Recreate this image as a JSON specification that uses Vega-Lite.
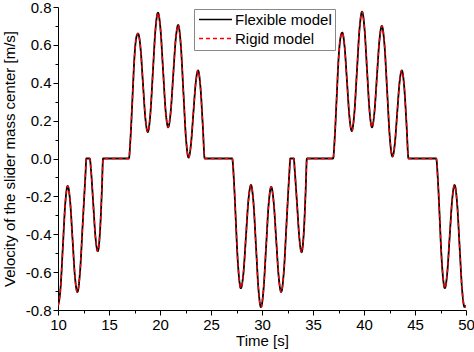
{
  "$schema": "https://vega.github.io/schema/vega-lite/v6.json",
  "width": 408,
  "height": 303,
  "autosize": "none",
  "padding": {"left": 58, "top": 7, "right": 8, "bottom": 42},
  "background": "white",
  "config": {
    "view": {"stroke": null},
    "font": "Liberation Sans",
    "axis": {
      "grid": false,
      "domainColor": "black",
      "tickColor": "black",
      "labelColor": "black",
      "titleColor": "black",
      "labelFontSize": 15,
      "titleFontSize": 15,
      "titleFontWeight": "normal",
      "labelFont": "Liberation Sans",
      "titleFont": "Liberation Sans",
      "labelOverlap": false,
      "labelFlush": false,
      "domainWidth": 1,
      "tickWidth": 1
    },
    "legend": {
      "labelFont": "Liberation Sans"
    }
  },
  "data": {
    "values": [
      {"t": 10.0, "v": -0.78}, {"t": 10.24, "v": -0.69}, {"t": 10.475, "v": -0.4675}, {"t": 10.71, "v": -0.239},
      {"t": 10.95, "v": -0.145}, {"t": 11.19, "v": -0.227}, {"t": 11.425, "v": -0.425}, {"t": 11.66, "v": -0.623},
      {"t": 11.9, "v": -0.705}, {"t": 12.16, "v": -0.599}, {"t": 12.425, "v": -0.3425}, {"t": 12.69, "v": -0.086},
      {"t": 12.78, "v": 0}, {"t": 13.12, "v": 0}, {"t": 13.225, "v": -0.054}, {"t": 13.45, "v": -0.235},
      {"t": 13.675, "v": -0.416}, {"t": 13.9, "v": -0.49}, {"t": 14.14, "v": -0.365}, {"t": 14.3, "v": -0.168},
      {"t": 14.42, "v": 0}, {"t": 16.95, "v": 0}, {"t": 17.1, "v": 0.1}, {"t": 17.3, "v": 0.32},
      {"t": 17.5, "v": 0.54}, {"t": 17.68, "v": 0.64}, {"t": 17.85, "v": 0.66}, {"t": 18.09, "v": 0.584},
      {"t": 18.325, "v": 0.40}, {"t": 18.56, "v": 0.216}, {"t": 18.8, "v": 0.14}, {"t": 19.05, "v": 0.232},
      {"t": 19.3, "v": 0.455}, {"t": 19.55, "v": 0.678}, {"t": 19.8, "v": 0.77}, {"t": 20.05, "v": 0.682},
      {"t": 20.3, "v": 0.4675}, {"t": 20.55, "v": 0.253}, {"t": 20.8, "v": 0.165}, {"t": 21.045, "v": 0.244},
      {"t": 21.29, "v": 0.435}, {"t": 21.535, "v": 0.626}, {"t": 21.78, "v": 0.705}, {"t": 22.035, "v": 0.603},
      {"t": 22.29, "v": 0.355}, {"t": 22.545, "v": 0.107}, {"t": 22.8, "v": 0.005}, {"t": 23.03, "v": 0.072},
      {"t": 23.265, "v": 0.235}, {"t": 23.5, "v": 0.398}, {"t": 23.73, "v": 0.465}, {"t": 23.97, "v": 0.374},
      {"t": 24.2, "v": 0.169}, {"t": 24.38, "v": 0}, {"t": 27.08, "v": 0}, {"t": 27.23, "v": -0.1},
      {"t": 27.41, "v": -0.3}, {"t": 27.58, "v": -0.5}, {"t": 27.75, "v": -0.63}, {"t": 27.92, "v": -0.685},
      {"t": 28.18, "v": -0.605}, {"t": 28.425, "v": -0.4125}, {"t": 28.67, "v": -0.22}, {"t": 28.92, "v": -0.14},
      {"t": 29.165, "v": -0.234}, {"t": 29.41, "v": -0.4625}, {"t": 29.655, "v": -0.691}, {"t": 29.9, "v": -0.785},
      {"t": 30.15, "v": -0.692}, {"t": 30.4, "v": -0.4675}, {"t": 30.65, "v": -0.243}, {"t": 30.9, "v": -0.15},
      {"t": 31.145, "v": -0.231}, {"t": 31.39, "v": -0.4275}, {"t": 31.635, "v": -0.624}, {"t": 31.88, "v": -0.705},
      {"t": 32.14, "v": -0.599}, {"t": 32.405, "v": -0.3425}, {"t": 32.67, "v": -0.086}, {"t": 32.78, "v": 0},
      {"t": 33.12, "v": 0}, {"t": 33.2, "v": -0.054}, {"t": 33.43, "v": -0.235}, {"t": 33.655, "v": -0.416},
      {"t": 33.88, "v": -0.495}, {"t": 34.12, "v": -0.37}, {"t": 34.28, "v": -0.17}, {"t": 34.4, "v": 0},
      {"t": 36.97, "v": 0}, {"t": 37.12, "v": 0.1}, {"t": 37.32, "v": 0.32}, {"t": 37.52, "v": 0.54},
      {"t": 37.7, "v": 0.64}, {"t": 37.87, "v": 0.665}, {"t": 38.1, "v": 0.589}, {"t": 38.335, "v": 0.405},
      {"t": 38.57, "v": 0.221}, {"t": 38.8, "v": 0.145}, {"t": 39.05, "v": 0.237}, {"t": 39.305, "v": 0.46},
      {"t": 39.56, "v": 0.683}, {"t": 39.81, "v": 0.775}, {"t": 40.05, "v": 0.686}, {"t": 40.295, "v": 0.47},
      {"t": 40.54, "v": 0.254}, {"t": 40.78, "v": 0.165}, {"t": 41.02, "v": 0.243}, {"t": 41.265, "v": 0.4325},
      {"t": 41.51, "v": 0.622}, {"t": 41.75, "v": 0.70}, {"t": 42.01, "v": 0.599}, {"t": 42.27, "v": 0.355},
      {"t": 42.53, "v": 0.111}, {"t": 42.79, "v": 0.01}, {"t": 43.02, "v": 0.076}, {"t": 43.25, "v": 0.2375},
      {"t": 43.48, "v": 0.399}, {"t": 43.71, "v": 0.465}, {"t": 43.95, "v": 0.374}, {"t": 44.18, "v": 0.169},
      {"t": 44.36, "v": 0}, {"t": 47.08, "v": 0}, {"t": 47.23, "v": -0.1}, {"t": 47.41, "v": -0.3},
      {"t": 47.58, "v": -0.5}, {"t": 47.75, "v": -0.63}, {"t": 47.92, "v": -0.685}, {"t": 48.16, "v": -0.605},
      {"t": 48.4, "v": -0.4125}, {"t": 48.64, "v": -0.22}, {"t": 48.88, "v": -0.14}, {"t": 49.125, "v": -0.234},
      {"t": 49.37, "v": -0.4625}, {"t": 49.615, "v": -0.691}, {"t": 49.86, "v": -0.785}, {"t": 50.0, "v": -0.775}
    ]
  },
  "encoding": {
    "x": {
      "field": "t",
      "type": "quantitative",
      "scale": {"domain": [10, 50], "nice": false, "zero": false},
      "axis": {
        "title": "Time [s]",
        "values": [10, 12.5, 15, 17.5, 20, 22.5, 25, 27.5, 30, 32.5, 35, 37.5, 40, 42.5, 45, 47.5, 50],
        "labelExpr": "datum.value % 5 === 0 ? format(datum.value, 'd') : ''",
        "tickSize": {"condition": {"test": "datum.value % 5 === 0", "value": 5}, "value": 3},
        "labelPadding": 2,
        "titlePadding": 1
      }
    },
    "y": {
      "field": "v",
      "type": "quantitative",
      "scale": {"domain": [-0.8, 0.8], "nice": false, "zero": false},
      "axis": {
        "title": "Velocity of the slider mass center [m/s]",
        "values": [-0.8, -0.7, -0.6, -0.5, -0.4, -0.3, -0.2, -0.1, 0, 0.1, 0.2, 0.3, 0.4, 0.5, 0.6, 0.7, 0.8],
        "labelExpr": "abs(round(datum.value * 10)) % 2 === 0 ? (datum.value < -0.001 ? '-' : '') + format(abs(datum.value), '.1f') : ''",
        "tickSize": {"condition": {"test": "abs(round(datum.value * 10)) % 2 === 0", "value": 5}, "value": 3},
        "labelPadding": 2,
        "titlePadding": 8
      }
    }
  },
  "layer": [
    {
      "mark": {"type": "line", "interpolate": "monotone", "strokeWidth": 1.8, "clip": true},
      "encoding": {
        "color": {
          "datum": "Flexible model",
          "type": "nominal",
          "scale": {"domain": ["Flexible model", "Rigid model"], "range": ["#000000", "#ff0000"]},
          "legend": {
            "title": null, "orient": "none", "legendX": 136, "legendY": 2,
            "symbolType": "M-1,0H5", "symbolSize": 121, "symbolStrokeWidth": 1.6,
            "labelFontSize": 15, "labelColor": "black", "labelOffset": 23,
            "fillColor": "white", "strokeColor": "#888888", "padding": 3, "rowPadding": 3
          }
        },
        "strokeDash": {
          "datum": "Flexible model",
          "type": "nominal",
          "scale": {"domain": ["Flexible model", "Rigid model"], "range": [[1, 0], [4, 3]]},
          "legend": {
            "title": null, "orient": "none", "legendX": 136, "legendY": 2,
            "symbolType": "M-1,0H5", "symbolSize": 121, "symbolStrokeWidth": 1.6,
            "labelFontSize": 15, "labelColor": "black", "labelOffset": 23,
            "fillColor": "white", "strokeColor": "#888888", "padding": 3, "rowPadding": 3
          }
        }
      }
    },
    {
      "mark": {"type": "line", "interpolate": "monotone", "strokeWidth": 1.4, "clip": true},
      "encoding": {
        "color": {"datum": "Rigid model", "type": "nominal"},
        "strokeDash": {"datum": "Rigid model", "type": "nominal"}
      }
    }
  ]
}
